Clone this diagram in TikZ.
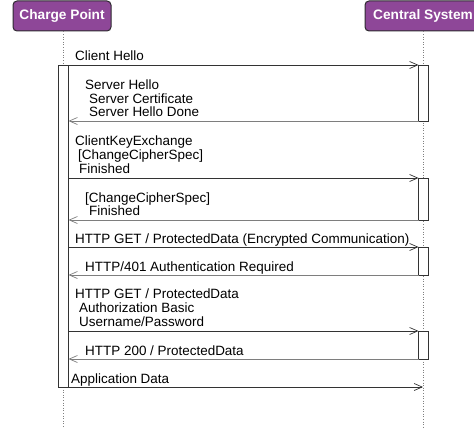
\documentclass[tikz,border=0pt]{standalone}
\usepackage{fontspec}
\setmainfont{Liberation Sans}
\usetikzlibrary{arrows.meta}
\definecolor{hdrfill}{HTML}{8E4798}
\definecolor{hdrline}{HTML}{2E2A30}
\definecolor{fwdline}{HTML}{333333}
\definecolor{retline}{HTML}{7E7E7E}
\begin{document}
\begin{tikzpicture}[x=1pt,y=-1pt,
  lbl/.style={anchor=base west, inner sep=0pt, font=\fontsize{13.45}{14}\selectfont},
  hdrbox/.style={draw=hdrline, line width=1pt, fill=hdrfill, rounded corners=4pt, text=white,
    font=\bfseries\fontsize{13.7}{16}\selectfont, minimum height=30pt, inner sep=0pt},
  lifeline/.style={draw=gray, dotted, line width=0.6pt},
  actbox/.style={draw=fwdline, fill=white, line width=0.7pt},
  tip/.style={-{Straight Barb[length=8pt,width=7pt,line width=0.7pt]}},
  msg/.style={draw=fwdline, line width=0.8pt, tip},
  ret/.style={draw=retline, line width=0.7pt, tip}]
\useasboundingbox (0,0) rectangle (474,436);
\clip (0,0) rectangle (474,436);

% headers
\node[hdrbox, minimum width=98pt] (cp) at (62,16) {Charge Point};
\node[hdrbox, minimum width=116pt] (cs) at (423,16) {Central System};

% lifelines
\coordinate (cpA) at (63,65);
\coordinate (cpB) at (63,387);
\coordinate (cpEnd) at (63,427);
\coordinate (csEnd) at (423,427);
\draw[lifeline] (cp.south -| cpA) -- (cpA);
\draw[lifeline] (cpB) -- (cpEnd);
\draw[lifeline] (cs.south) -- (csEnd);

% activation boxes
\draw[actbox] (58.5,65) rectangle (68.5,387);
\draw[actbox] (418.5,65) rectangle (428.5,121);
\draw[actbox] (418.5,178) rectangle (428.5,220);
\draw[actbox] (418.5,247) rectangle (428.5,275);
\draw[actbox] (418.5,331) rectangle (428.5,359);

% message end points
\coordinate (l1) at (68.5,65);   \coordinate (r1) at (418.5,65);
\coordinate (l2) at (68.5,121);  \coordinate (r2) at (418.5,121);
\coordinate (l3) at (68.5,178);  \coordinate (r3) at (418.5,178);
\coordinate (l4) at (68.5,220);  \coordinate (r4) at (418.5,220);
\coordinate (l5) at (68.5,247);  \coordinate (r5) at (418.5,247);
\coordinate (l6) at (68.5,275);  \coordinate (r6) at (418.5,275);
\coordinate (l7) at (68.5,331);  \coordinate (r7) at (418.5,331);
\coordinate (l8) at (68.5,359);  \coordinate (r8) at (418.5,359);
\coordinate (l9) at (68.5,387);  \coordinate (r9) at (423,387);

\draw[msg] (l1) -- (r1);
\draw[ret] (r2) -- (l2);
\draw[msg] (l3) -- (r3);
\draw[ret] (r4) -- (l4);
\draw[msg] (l5) -- (r5);
\draw[ret] (r6) -- (l6);
\draw[msg] (l7) -- (r7);
\draw[ret] (r8) -- (l8);
\draw[msg] (l9) -- (r9);

% labels
\node[lbl] (t1) at (75,61) {Client Hello};
\node[lbl] (t2a) at (85,89) {Server Hello};
\node[lbl] (t2b) at (89,103) {Server Certificate};
\node[lbl] (t2c) at (89,117) {Server Hello Done};
\node[lbl] (t3a) at (75,145) {ClientKeyExchange};
\node[lbl] (t3b) at (78,159) {[ChangeCipherSpec]};
\node[lbl] (t3c) at (79,173) {Finished};
\node[lbl] (t4a) at (85,202) {[ChangeCipherSpec]};
\node[lbl] (t4b) at (89,215) {Finished};
\node[lbl] (t5) at (75,243) {HTTP GET / ProtectedData (Encrypted Communication)};
\node[lbl] (t6) at (85,271) {HTTP/401 Authentication Required};
\node[lbl] (t7a) at (75,298) {HTTP GET / ProtectedData};
\node[lbl] (t7b) at (79,312) {Authorization Basic};
\node[lbl] (t7c) at (79,326) {Username/Password};
\node[lbl] (t8) at (85,355) {HTTP 200 / ProtectedData};
\node[lbl] (t9) at (71,383) {Application Data};
\end{tikzpicture}
\end{document}
